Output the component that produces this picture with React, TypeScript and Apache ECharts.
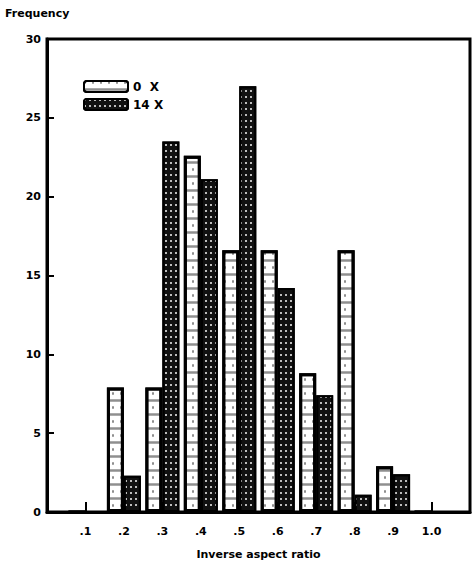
import React, { useEffect, useRef } from "react";
import * as echarts from "echarts";

const ratios = [0.1, 0.2, 0.3, 0.4, 0.5, 0.6, 0.7, 0.8, 0.9, 1.0];
const freq0X = [0, 7.9, 7.9, 22.6, 16.6, 16.6, 8.8, 16.6, 2.9, 0];
const freq14X = [0, 2.3, 23.5, 21.1, 27.0, 14.2, 7.4, 1.1, 2.4, 0];
const xTickLabels = [".1", ".2", ".3", ".4", ".5", ".6", ".7", ".8", ".9", "1.0"];
const seriesNames = ["0  X", "14 X"];

const FONT = "'DejaVu Sans', sans-serif";

export default function App() {
  const ref = useRef<HTMLDivElement>(null);
  useEffect(() => {
    if (!ref.current) return;
    const chart = echarts.init(ref.current, null, { renderer: "svg" });
    const labelFor = (v: number) => {
      const idx = ratios.findIndex((r) => Math.abs(r - v) < 1e-6);
      return idx >= 0 ? xTickLabels[idx] : "";
    };
    chart.setOption({
      animation: false,
      backgroundColor: "#fff",
      title: {
        text: "Frequency",
        left: 0,
        top: 3,
        textStyle: { fontFamily: FONT, fontSize: 11, fontWeight: "bold", color: "#000" },
      },
      legend: {
        orient: "vertical",
        left: 78,
        top: 75,
        itemWidth: 44,
        itemHeight: 11,
        itemGap: 5,
        textStyle: { fontFamily: FONT, fontSize: 12, fontWeight: "bold", color: "#000" },
        data: seriesNames,
      },
      grid: {
        left: 47,
        top: 39,
        width: 423,
        height: 480,
        show: true,
        borderColor: "#000",
        borderWidth: 3,
        containLabel: false,
      },
      xAxis: {
        type: "value",
        min: 0,
        max: 1.1,
        interval: 0.1,
        name: "Inverse aspect ratio",
        nameLocation: "middle",
        nameGap: 37,
        nameTextStyle: { fontFamily: FONT, fontSize: 11, fontWeight: "bold", color: "#000" },
        axisLine: { show: true, lineStyle: { color: "#000", width: 3 } },
        axisTick: { show: true, inside: true, length: 10, lineStyle: { color: "#000", width: 2 } },
        axisLabel: {
          formatter: (v: number) => labelFor(v),
          fontFamily: FONT,
          fontSize: 11,
          fontWeight: "bold",
          color: "#000",
          margin: 14,
        },
        splitLine: { show: false },
      },
      yAxis: {
        type: "value",
        min: 0,
        max: 30,
        interval: 5,
        axisLine: { show: true, lineStyle: { color: "#000", width: 3 } },
        axisTick: { show: true, inside: true, length: 7, lineStyle: { color: "#000", width: 2 } },
        axisLabel: {
          fontFamily: FONT,
          fontSize: 11,
          fontWeight: "bold",
          color: "#000",
          margin: 6,
        },
        splitLine: { show: false },
      },
      series: [
        {
          name: seriesNames[0],
          type: "bar",
          barWidth: 17,
          barGap: "0%",
          data: ratios.map((r, i) => [r, freq0X[i]]),
          itemStyle: {
            color: "#fff",
            borderColor: "#000",
            borderWidth: 3,
            decal: {
              symbol: "rect",
              symbolSize: 0.8,
              color: "rgba(0,0,0,0.55)",
              dashArrayX: [[1, 0], [2, 6]],
              dashArrayY: [3, 4],
              rotation: 0,
            },
          },
        },
        {
          name: seriesNames[1],
          type: "bar",
          barWidth: 17,
          data: ratios.map((r, i) => [r, freq14X[i]]),
          itemStyle: {
            color: "#111",
            borderColor: "#000",
            borderWidth: 2,
            decal: {
              symbol: "rect",
              symbolSize: 0.9,
              color: "rgba(255,255,255,0.8)",
              dashArrayX: [2, 3],
              dashArrayY: [2, 4],
              rotation: 0,
            },
          },
        },
      ],
    });
    return () => chart.dispose();
  }, []);
  return (
    <div
      ref={ref}
      style={{ position: "fixed", left: 0, top: 0, width: 474, height: 565, background: "#fff" }}
    />
  );
}
